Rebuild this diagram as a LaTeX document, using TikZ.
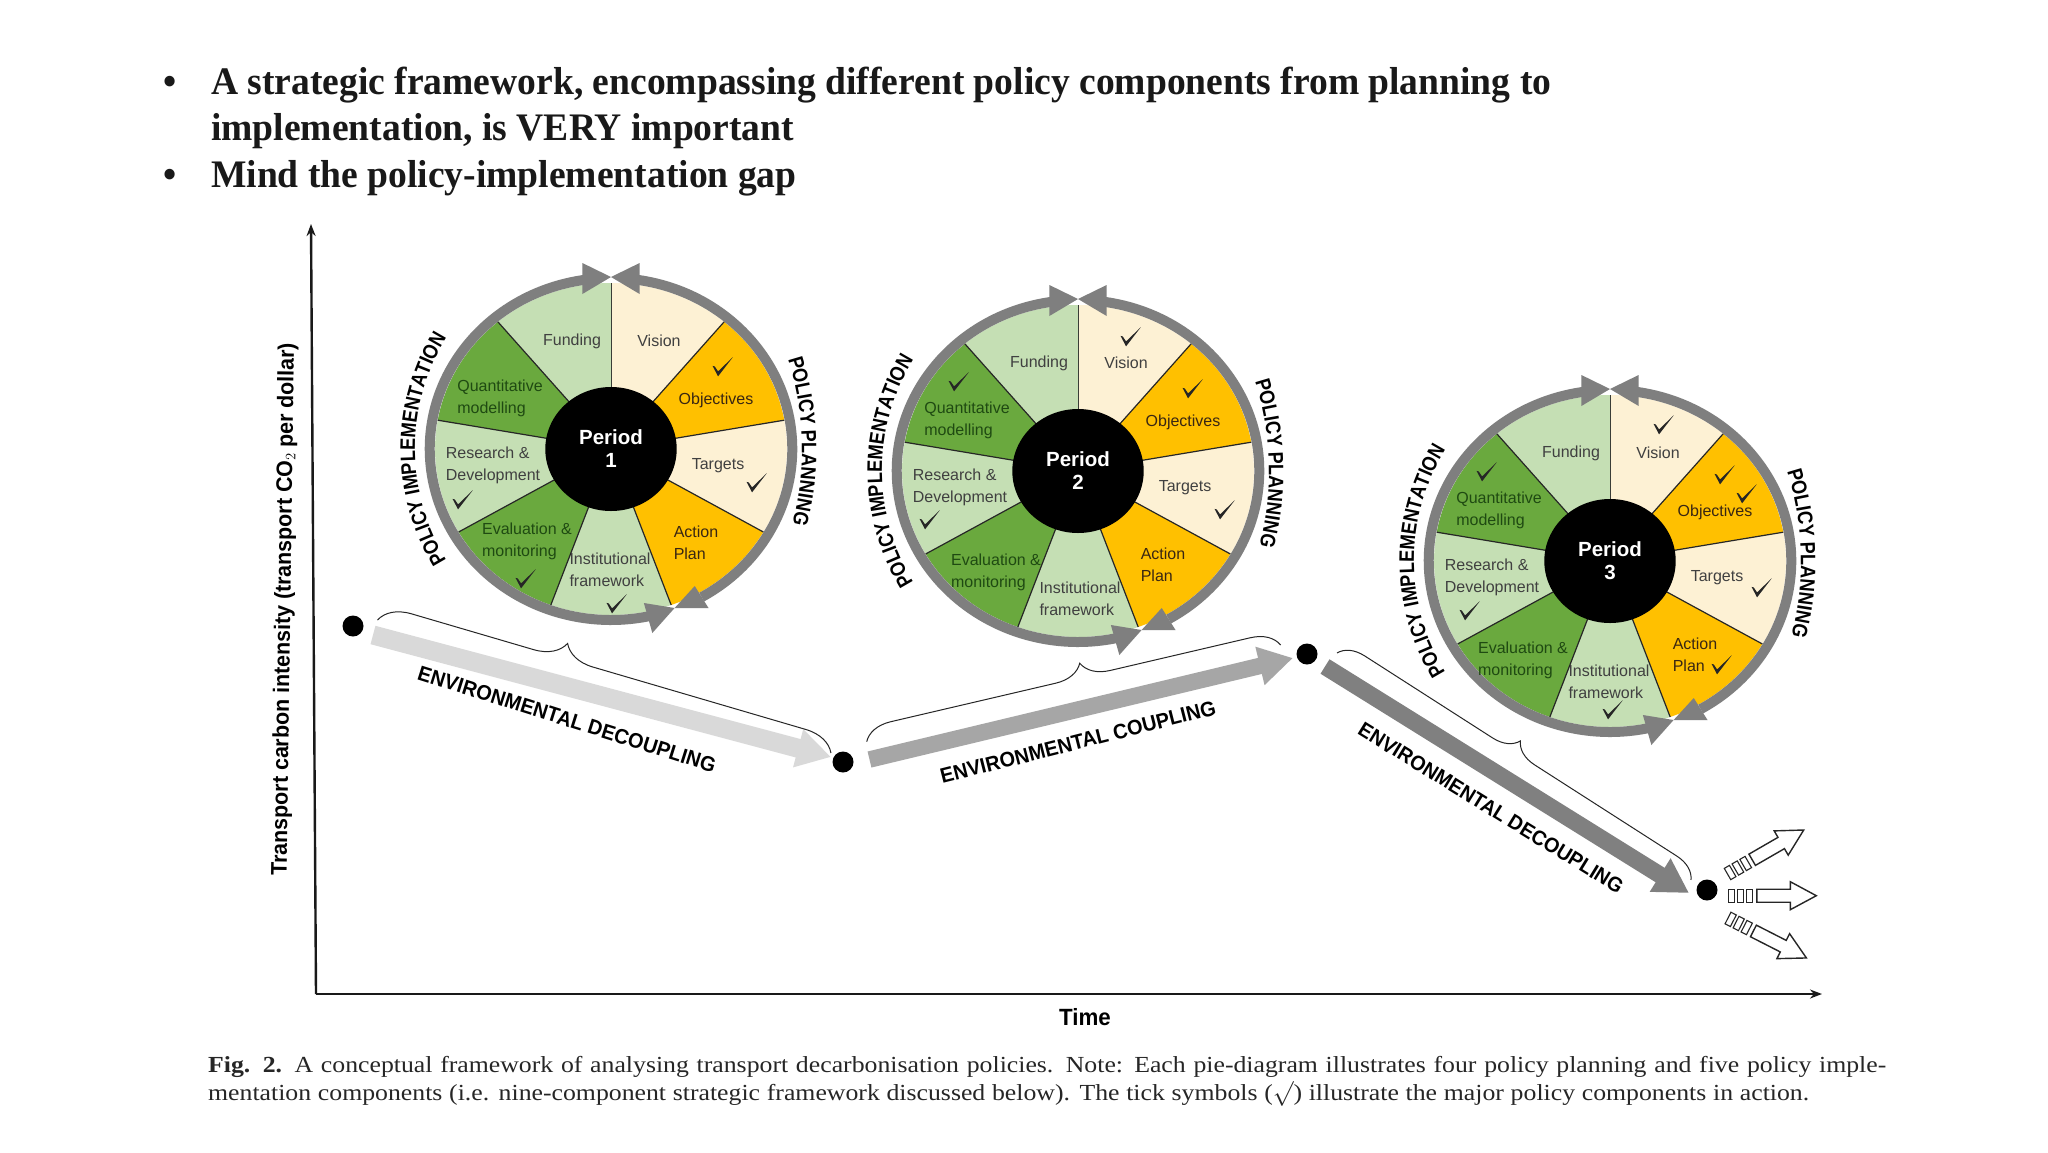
\documentclass[tikz,border=0pt]{standalone}
\usepackage{fontspec}
\usetikzlibrary{arrows.meta,decorations.text,decorations.pathreplacing}
\setmainfont{Liberation Serif}
\setsansfont{Liberation Sans}
\newfontfamily\condfont[FakeStretch=0.86]{Liberation Sans}
\newfontfamily\widefont[FakeStretch=0.95]{Liberation Sans}
\newfontfamily\headfont[FakeStretch=0.963]{Liberation Serif}
\newfontfamily\capfont[FakeStretch=1.12]{Liberation Serif}
\definecolor{ltgreen}{HTML}{C5DFB4}
\definecolor{dkgreen}{HTML}{6AA93E}
\definecolor{cream}{HTML}{FDF1D4}
\definecolor{amber}{HTML}{FFC000}
\definecolor{ringgray}{HTML}{7F7F7F}
\definecolor{dktext}{HTML}{1F4A12}
\tikzset{
  headline/.style={anchor=base west,inner sep=0pt,font=\headfont\bfseries\fontsize{39}{39}\selectfont,text=black!90},
  sectorlab/.style={align=center,inner sep=0pt,font=\sffamily\fontsize{16}{22}\selectfont,text=black!75},
  greenlab/.style={sectorlab,text=dktext},
  amberlab/.style={sectorlab,text=black!70!brown},
  ringline/.style={draw=ringgray,line width=10pt},
  ringhead/.style={fill=ringgray},
  bigarrow/.style={line width=#1,-{Triangle[length=34pt,width=37pt]}},
  bracket/.style={draw=black!85,line width=1pt,decorate},
  dot/.style={circle,fill=black,minimum size=21pt,inner sep=0pt},
  curvedlab/.style={decorate,decoration={text along path,text={#1},
    text align=center,text color=black}},
  slanted/.style={inner sep=0pt,font=\widefont\bfseries\fontsize{21}{21}\selectfont},
  outarrow/.style={draw=black!85,line width=1.4pt,fill=white},
  axis/.style={draw=black!90,line width=2.4pt,-{Stealth[length=12pt,width=9pt]}},
  caplab/.style={anchor=base west,inner sep=0pt,font=\capfont\fontsize{23}{23}\selectfont,text=black!85}
}
% sector name colour start
\newcommand{\sector}[3]{
  \fill[#1] (0,0) -- (#2:166) arc[start angle=#2,end angle=#3,radius=166] -- cycle;
  \draw[black!85,line width=1.2pt] (0,0) -- (#2:166);
}
% centre, number, list of ticks, evaluation and institutional labels
\newcommand{\wheel}[6]{
\begin{scope}[shift={(#1,#2)}]
  \begin{scope}[xscale=1.06]
    \sector{cream}{90}{50}
    \sector{amber}{50}{10}
    \sector{cream}{10}{-30}
    \sector{amber}{-30}{-70}
    \sector{ltgreen}{-70}{-110}
    \sector{dkgreen}{-110}{-150}
    \sector{ltgreen}{-150}{-190}
    \sector{dkgreen}{170}{130}
    \sector{ltgreen}{130}{90}
    \draw[ringline] (97:171) arc[start angle=97,end angle=283,radius=171];
    \draw[ringline] (83:171) arc[start angle=83,end angle=-60,radius=171];
    \fill[ringhead] (0,172) -- (-27,186) -- (-27,155) -- cycle;
    \fill[ringhead] (0,172) -- (27,186) -- (27,155) -- cycle;
    \fill[ringhead] (60,-159) -- (31,-154) -- (39,-184) -- cycle;
    \fill[ringhead] (60,-159) -- (92,-159) -- (79,-137) -- cycle;
    \fill[black] (0,0) circle[radius=62];
  \end{scope}
  \node[inner sep=0pt,align=center,text=white,font=\sffamily\bfseries\fontsize{20.5}{23}\selectfont] (period#3) at (0,0) {Period\\#3};
  \node[sectorlab] (fund#3) at (-39,108) {Funding};
  \node[sectorlab] (vis#3) at (48,108) {Vision};
  \node[amberlab] (obj#3) at (105,49) {Objectives};
  \node[sectorlab] (tar#3) at (107,-17) {Targets};
  \node[amberlab,align=left] (act#3) at (85,-94) {Action\\Plan};
  \node[sectorlab,align=left] (inst#3) at (#6) {Institutional\\framework};
  \node[greenlab,align=left] (eval#3) at (#5) {Evaluation \&\\monitoring};
  \node[sectorlab,align=left] (res#3) at (-118,-16) {Research \&\\Development};
  \node[greenlab,align=left] (quant#3) at (-111,51) {Quantitative\\modelling};
  \foreach \tx/\ty in {#4}
    \fill[black!85,shift={(\tx,\ty)},scale=1.1] (-9.5,1) -- (-7.5,0.5) -- (-4.5,-4) -- (9,9) -- (-4.5,-8.5) -- cycle;
  \path[curvedlab={|\condfont\bfseries\fontsize{21}{21}\selectfont|POLICY IMPLEMENTATION}]
    (17,0) ++(210.8:213) arc[start angle=210.8,end angle=149.2,radius=213];
  \path[curvedlab={|\condfont\bfseries\fontsize{21}{21}\selectfont|POLICY PLANNING}]
    (-105,0) ++(17:296) arc[start angle=17,end angle=-14,radius=296];
\end{scope}
}
% origin, angle
\newcommand{\outcome}[3]{
\begin{scope}[shift={(#1,#2)},rotate=#3]
  \foreach \bx in {0,9,18}
    \draw[outarrow,line width=1.1pt] (\bx,-6.5) rectangle ++(6,13);
  \draw[outarrow] (28.5,-6.5) -- (62,-6.5) -- (62,-14) -- (88,0) -- (62,14) -- (62,6.5) -- (28.5,6.5) -- cycle;
\end{scope}
}

\begin{document}
\begin{tikzpicture}[x=1pt,y=1pt]
\useasboundingbox[fill=white] (0,-1152) rectangle (2048,0);

% bullets
\node[headline] (bulletA) at (163,-94) {\textbullet};
\node[headline] (lineA) at (211,-94) {A strategic framework, encompassing different policy components from planning to};
\node[headline] (lineB) at (211,-140) {implementation, is VERY important};
\node[headline] (bulletB) at (163,-187) {\textbullet};
\node[headline] (lineC) at (211,-187) {Mind the policy-implementation gap};

% axes
\coordinate (orig) at (316,-994);
\coordinate (ytop) at (311,-224);
\coordinate (xend) at (1822,-994);
\draw[axis] (orig) -- (ytop);
\draw[axis] (orig) -- (xend);
\node[inner sep=0pt,rotate=89.2,font=\widefont\bfseries\fontsize{22.5}{22.5}\selectfont] (ylab) at (284.5,-609) {Transport carbon intensity (transport CO$_2$ per dollar)};
\node[inner sep=0pt,font=\widefont\bfseries\fontsize{23.5}{23.5}\selectfont] (xlab) at (1085,-1017) {Time};

% wheels
\wheel{611}{-449}{1}{112/82,146/-34,-148/-51,-85/-130,6/-155}{-84,-92}{-1,-121}
\wheel{1078}{-471}{2}{53/134,115/82,147/-39,-148/-49,-119/89}{-82,-101}{2,-128}
\wheel{1610}{-561}{3}{54/136,115/86,137/67,152/-27,112/-104,3/-149,-140/-50,-123/89}{-87,-99}{-1,-121}

% dots
\node[dot] (d1) at (353,-626) {};
\node[dot] (d2) at (843,-762) {};
\node[dot] (d3) at (1307,-654) {};
\node[dot] (d4) at (1707,-890) {};

% trend arrows
\coordinate (a1s) at (373,-635);
\coordinate (a1e) at (831,-757);
\draw[bigarrow=19pt,color=black!15] (a1s) -- (a1e);
\coordinate (a2s) at (869.5,-759.5);
\coordinate (a2e) at (1293,-658);
\draw[bigarrow=16.5pt,color=black!35] (a2s) -- (a2e);
\coordinate (a3s) at (1325,-666.5);
\coordinate (a3e) at (1689,-893);
\draw[bigarrow=17pt,color=black!50] (a3s) -- (a3e);

% braces
\coordinate (b1s) at (377.5,-620);
\coordinate (b1e) at (831,-753);
\draw[bracket,decoration={brace,amplitude=31pt,aspect=.4}] (b1s) -- (b1e);
\coordinate (b2s) at (866.7,-741.7);
\coordinate (b2e) at (1280.7,-645);
\draw[bracket,decoration={brace,amplitude=28pt,aspect=.53}] (b2s) -- (b2e);
\coordinate (b3s) at (1337,-653);
\coordinate (b3e) at (1691,-880);
\draw[bracket,decoration={brace,amplitude=25pt,aspect=.48}] (b3s) -- (b3e);

\node[slanted,rotate=-17.5] (env1) at (567,-719) {ENVIRONMENTAL DECOUPLING};
\node[slanted,rotate=14.2] (env2) at (1078,-742) {ENVIRONMENTAL COUPLING};
\node[slanted,rotate=-31.6,font=\widefont\bfseries\fontsize{20.7}{20.7}\selectfont] (env3) at (1491,-808) {ENVIRONMENTAL DECOUPLING};

\outcome{1727.5}{-874}{30}
\outcome{1728.3}{-895.7}{0}
\outcome{1728}{-918}{-27}

% caption
\node[caplab] (capA) at (208,-1072) {\makebox[1678pt][s]{\textbf{Fig. 2.} A conceptual framework of analysing transport decarbonisation policies. Note: Each pie-diagram illustrates four policy planning and five policy imple-}};
\node[caplab] (capB) at (208,-1100) {\makebox[1601pt][s]{mentation components (i.e. nine-component strategic framework discussed below). The tick symbols ($\surd$) illustrate the major policy components in action.}};
\end{tikzpicture}
\end{document}
